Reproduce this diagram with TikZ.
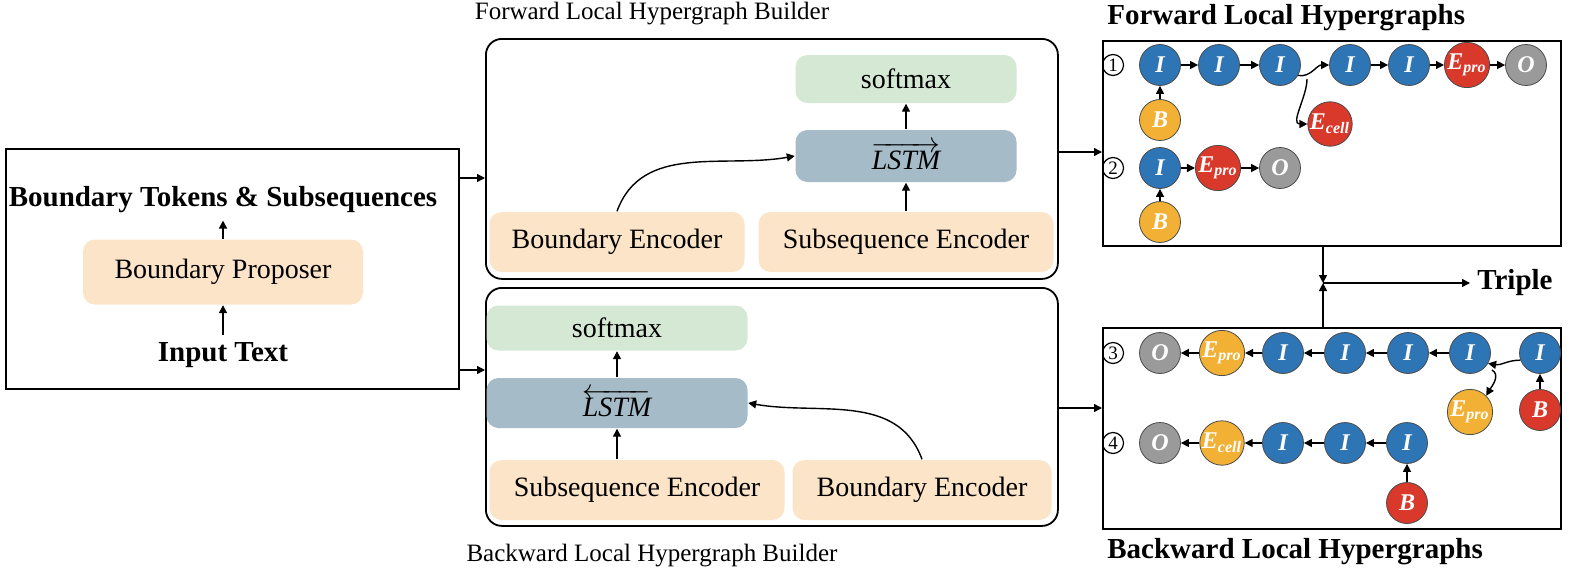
\documentclass[tikz,border=0pt]{standalone}
\usepackage{fontspec}
\setmainfont{Liberation Serif}
\usetikzlibrary{arrows.meta,calc}
\definecolor{peach}{HTML}{FCE4C8}
\definecolor{mint}{HTML}{D5E8D4}
\definecolor{lstm}{HTML}{A5BBC8}
\definecolor{cblue}{HTML}{2E75B6}
\definecolor{corange}{HTML}{F2B134}
\definecolor{cred}{HTML}{D9392B}
\definecolor{cgray}{HTML}{9A9A9A}
\begin{document}
\begin{tikzpicture}[x=0.5pt,y=-0.5pt,
  >={Triangle[length=4pt,width=4pt]}, line width=0.7pt,
  lbl/.style={font=\fontsize{12.5}{14}\selectfont},
  ttl/.style={font=\fontsize{14.5}{16}\selectfont\bfseries},
  panel/.style={draw,line width=0.9pt},
  builder/.style={draw,rounded corners=8pt,line width=0.9pt},
  blk/.style={rounded corners=6pt,inner sep=0,font=\fontsize{14}{16}\selectfont},
  nd/.style={circle,draw=black!70,line width=0.4pt,minimum size=20.5pt,inner sep=0,text=white,font=\fontsize{12}{12}\selectfont\bfseries\itshape},
  I/.style={nd,fill=cblue},
  Y/.style={nd,fill=corange},
  R/.style={nd,fill=cred},
  G/.style={nd,fill=cgray},
  num/.style={circle,draw,line width=0.6pt,inner sep=0,minimum size=10.5pt,font=\fontsize{9.5}{10}\selectfont}]
\useasboundingbox (0,0) rectangle (1578,578);
% left box
\node[panel,minimum width=453*0.5pt,minimum height=240*0.5pt,anchor=north west] (left) at (5,148) {};
\node[ttl] (btk) at (223,200) {Boundary Tokens \& Subsequences};
\node[blk,fill=peach,minimum width=140pt,minimum height=32.5pt] (bp) at (223,272) {Boundary Proposer};
\node[ttl] (it) at (223,355) {Input Text};
\draw[->] (bp.north) -- (btk.south);
\draw[->] (it.north) -- (bp.south);
% forward builder
\node[builder,minimum width=286pt,minimum height=120pt,anchor=north west] (fb) at (485,38) {};
\node[lbl] (fbt) at (652,14) {Forward Local Hypergraph Builder};
\node[blk,fill=mint,minimum width=110.5pt,minimum height=24pt] (fsm) at (906,79) {softmax};
\node[blk,fill=lstm,minimum width=110.5pt,minimum height=26pt] (fls) at (906,156) {$\overrightarrow{\mathit{LSTM}}$};
\node[blk,fill=peach,minimum width=127.5pt,minimum height=30pt] (fbe) at (617,242) {Boundary Encoder};
\node[blk,fill=peach,minimum width=147.5pt,minimum height=30pt] (fse) at (906,242) {Subsequence Encoder};
\draw[->] (fls.north) -- (fsm.south);
\draw[->] (fse.north) -- (fls.south);
\draw[->] (fbe.north) to[out=70,in=190] (fls.west);
% backward builder
\node[builder,minimum width=286pt,minimum height=119pt,anchor=north west] (bb) at (485,287) {};
\node[lbl] (bbt) at (652,556) {Backward Local Hypergraph Builder};
\node[blk,fill=mint,minimum width=130.5pt,minimum height=22.5pt] (bsm) at (617,328) {softmax};
\node[blk,fill=lstm,minimum width=130.5pt,minimum height=25pt] (bls) at (617,403) {$\overleftarrow{\mathit{LSTM}}$};
\node[blk,fill=peach,minimum width=147.5pt,minimum height=30pt] (bse) at (637,490) {Subsequence Encoder};
\node[blk,fill=peach,minimum width=129.5pt,minimum height=30pt] (bbe) at (922,490) {Boundary Encoder};
\draw[->] (bls.north) -- (bsm.south);
\draw[->] (bls.south |- bse.north) -- (bls.south);
\draw[->] (bbe.north) to[out=110,in=-10] (bls.east);
% left to builders
\coordinate (l1) at (458,178); \coordinate (l2) at (458,370);
\draw[->] (l1) -- (485,178);
\draw[->] (l2) -- (485,370);
% right panels
\node[panel,minimum width=229pt,minimum height=102.5pt,anchor=north west] (fp) at (1102,40) {};
\node[ttl,anchor=west] (fpt) at (1100,18) {Forward Local Hypergraphs};
\node[panel,minimum width=229pt,minimum height=100.5pt,anchor=north west] (bpn) at (1102,327) {};
\node[ttl,anchor=west] (bpt) at (1100,552) {Backward Local Hypergraphs};
\draw[->] (1057,152) -- (fp.west |- 0,152);
\draw[->] (1057,408) -- (bpn.west |- 0,408);
% triple
\coordinate (j) at (1323,283);
\node[ttl,anchor=west] (tr) at (1470,283) {Triple};
\draw[->] (fp.south -| j) -- (j);
\draw[->] (bpn.north -| j) -- (j);
\draw[->] (j) -- (tr.west);
% forward nodes
\node[num] (n1) at (1113,65) {1};
\node[I] (a1) at (1160,65) {I};
\node[I] (a2) at (1219,65) {I};
\node[I] (a3) at (1280,65) {I};
\node[I] (a4) at (1350,65) {I};
\node[I] (a5) at (1409,65) {I};
\node[R] (a6) at (1467,65) {E\textsubscript{pro}};
\node[G] (a7) at (1526,65) {O};
\node[Y] (ab) at (1160,120) {B};
\node[R] (ae) at (1330,124) {E\textsubscript{cell}};
\draw[->] (a1) -- (a2); \draw[->] (a2) -- (a3);
\draw[->] (a4) -- (a5); \draw[->] (a5) -- (a6); \draw[->] (a6) -- (a7);
\draw[->] (ab) -- (a1);
\draw[->] (a3.-30) to[out=-10,in=180] (a4.west);
\draw[->] (1307,79) to[out=-90,in=180] (ae.west);
\node[num] (n2) at (1113,168) {2};
\node[I] (c1) at (1160,168) {I};
\node[R] (c2) at (1218,168) {E\textsubscript{pro}};
\node[G] (c3) at (1280,168) {O};
\node[Y] (cb) at (1160,222) {B};
\draw[->] (c1) -- (c2); \draw[->] (c2) -- (c3); \draw[->] (cb) -- (c1);
% backward nodes
\node[num] (n3) at (1113,353) {3};
\node[G] (d1) at (1160,353) {O};
\node[Y] (d2) at (1222,353) {E\textsubscript{pro}};
\node[I] (d3) at (1283,353) {I};
\node[I] (d4) at (1345,353) {I};
\node[I] (d5) at (1408,353) {I};
\node[I] (d6) at (1470,353) {I};
\node[I] (d7) at (1540,353) {I};
\node[Y] (de) at (1470,412) {E\textsubscript{pro}};
\node[R] (db) at (1540,410) {B};
\draw[->] (d2) -- (d1); \draw[->] (d3) -- (d2); \draw[->] (d4) -- (d3);
\draw[->] (d5) -- (d4); \draw[->] (d6) -- (d5);
\draw[->] (db) -- (d7);
\draw[->] (d7.-160) to[out=180,in=-10] (d6.-30);
\draw[->] (1492,370) to[out=-30,in=60] (de.45);
\node[num] (n4) at (1113,443) {4};
\node[G] (e1) at (1160,443) {O};
\node[Y] (e2) at (1222,443) {E\textsubscript{cell}};
\node[I] (e3) at (1283,443) {I};
\node[I] (e4) at (1345,443) {I};
\node[I] (e5) at (1407,443) {I};
\node[R] (eb) at (1407,503) {B};
\draw[->] (e2) -- (e1); \draw[->] (e3) -- (e2); \draw[->] (e4) -- (e3);
\draw[->] (e5) -- (e4); \draw[->] (eb) -- (e5);
\end{tikzpicture}
\end{document}
